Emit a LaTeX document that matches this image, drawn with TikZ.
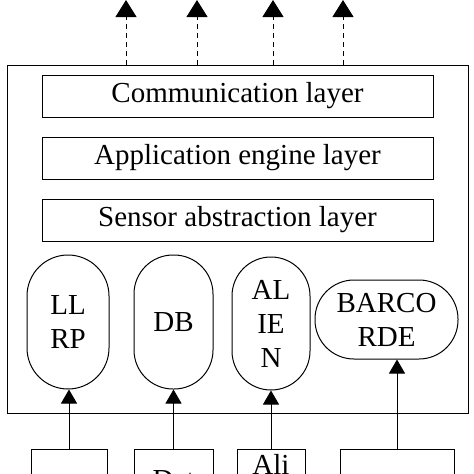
\documentclass[tikz,border=0pt]{standalone}
\usepackage{fontspec}
\setmainfont{Liberation Serif}
\usetikzlibrary{positioning,arrows.meta}
\tikzset{
  >={Triangle[width=16pt,length=14pt]},
  layer/.style={
    draw,
    minimum width=391pt,
    minimum height=42pt,
    inner sep=0pt
  },
  pill/.style={
    draw,
    rounded corners=#1,
    align=center,
    inner sep=0pt
  },
  srcbox/.style={
    draw,
    anchor=north,
    text height=19pt,
    text depth=40pt,
    inner ysep=6pt
  },
  uplink/.style={
    dash pattern=on 5pt off 4pt,
    -{Triangle[width=21pt,length=17pt]}
  }
}

\begin{document}
\begin{tikzpicture}[
      x=1pt, y=-1pt,
      line width=1pt,
      every node/.style={font=\fontsize{29pt}{34pt}\selectfont},
      node distance=19pt
    ]
      \useasboundingbox (0,0) rectangle (474,474);
      \clip (0,0) rectangle (474,474);

      % middleware box with its layers
      \node[draw, minimum width=461pt, minimum height=348pt] (mw) at (237.5,239) {};
      \node[layer] (comm) at (237.5,96) {Communication layer};
      \node[layer, below=of comm] (app) {Application engine layer};
      \node[layer, below=of app] (sensor) {Sensor abstraction layer};

      % adapters
      \node[pill=41pt, minimum width=82pt, minimum height=134pt] (llrp) at (68,322) {LL\\RP};
      \node[pill=39pt, minimum width=79pt, minimum height=134pt] (db) at (173.5,322) {DB};
      \node[pill=39pt, minimum width=78pt, minimum height=133pt] (alien) at (271,323.5) {AL\\IE\\N};
      \node[pill=39pt, minimum width=143pt, minimum height=79pt] (barcode) at (386.5,319.5) {BARCO\\RDE};

      % sources
      \node[srcbox, minimum width=76pt] (src1) at (69,449) {};
      \node[srcbox, minimum width=79pt, inner ysep=21pt] (src2) at (173.5,449) {Dat};
      \node[srcbox, minimum width=68pt] (src3) at (271,449) {Ali};
      \node[srcbox, minimum width=114pt] (src4) at (397,449) {};

      \draw[->] (src1.north) -- (src1.north |- llrp.south);
      \draw[->] (src2.north) -- (src2.north |- db.south);
      \draw[->] (src3.north) -- (src3.north |- alien.south);
      \draw[->] (src4.north) -- (src4.north |- barcode.south);

      % outputs
      \coordinate (out1) at (126,0);
      \coordinate (out2) at (197,0);
      \coordinate (out3) at (273,0);
      \coordinate (out4) at (343,0);
      \foreach \i in {1,...,4}
        \draw[uplink] (mw.north -| out\i) -- (out\i);
    \end{tikzpicture}
\end{document}
